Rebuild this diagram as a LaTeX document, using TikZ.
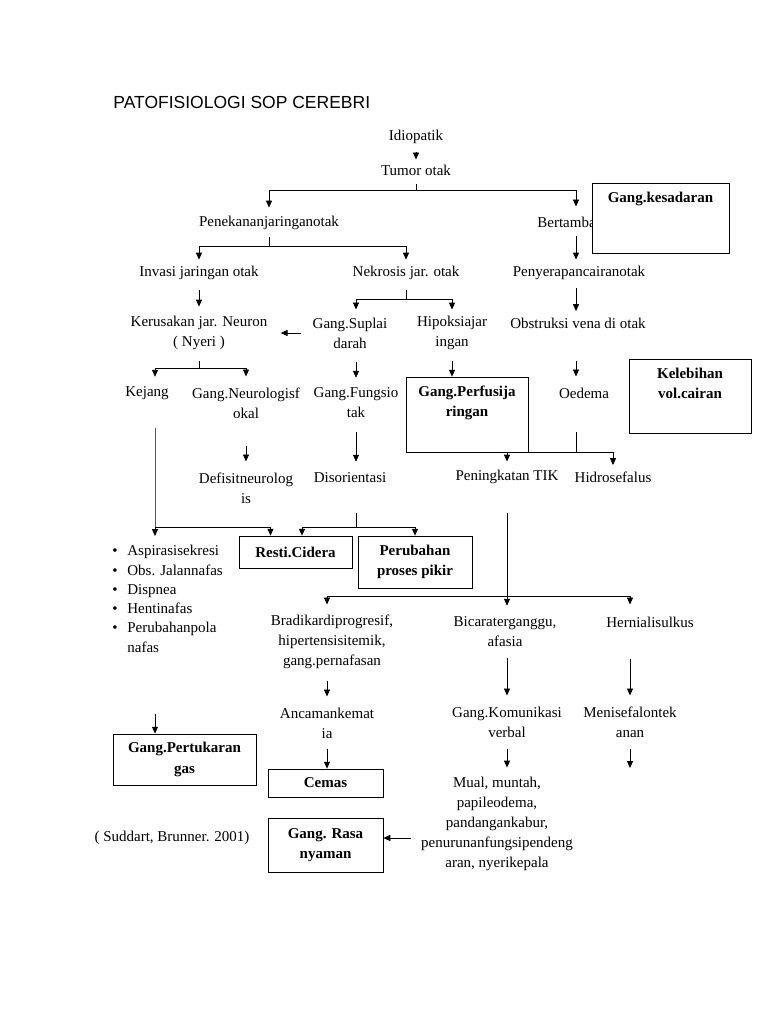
\documentclass[tikz,border=0pt]{standalone}
\usepackage{fontspec}
\setmainfont{Liberation Serif}
\setsansfont{Liberation Sans}
\usetikzlibrary{arrows.meta}

\begin{document}
\begin{tikzpicture}[x=0.8pt, y=-0.8pt, line width=0.6pt,
    teks/.style={font=\fontsize{12}{16}\selectfont, align=center, inner sep=0pt},
    kotak/.style={draw, fill=white, font=\bfseries\fontsize{12}{16.5}\selectfont, align=center, inner sep=0pt},
    kotaklabel/.style={anchor=north, yshift=-7pt, inner sep=0pt, align=center, font=\bfseries\fontsize{12}{16.5}\selectfont},
    panah/.style={-{Triangle[length=5.5pt,width=4.8pt]}}]
    \useasboundingbox (0,0) rectangle (768,1024);

    \node[anchor=west, inner sep=0pt, font=\sffamily\fontsize{14}{16}\selectfont] (judul) at (113,102) {PATOFISIOLOGI SOP CEREBRI};

    % baris atas
    \node[teks] (idio) at (416,137) {Idiopatik};
    \node[teks] (tumor) at (416,170) {Tumor otak};
    \node[teks] (pene) at (269,223) {Penekananjaringanotak};
    \node[teks, anchor=west] (bert) at (537,222) {Bertamba};
    \coordinate (bertax) at (576,222);
    \node[teks] (invasi) at (199,273) {Invasi jaringan otak};
    \node[teks] (nekrosis) at (406,273) {Nekrosis jar. otak};
    \node[teks] (penyerapan) at (579,273) {Penyerapancairanotak};
    \node[teks] (kerusakan) at (199,333) {Kerusakan jar. Neuron\\( Nyeri )};
    \node[teks] (suplai) at (350,333) {Gang.Suplai\\darah};
    \node[teks] (hipoksia) at (452,333) {Hipoksiajar\\ingan};
    \node[teks] (obstruksi) at (578,323) {Obstruksi vena di otak};
    \node[teks] (kejang) at (147,393) {Kejang};
    \coordinate (kejcol) at (155,393);
    \node[teks] (neuro) at (246,403) {Gang.Neurologisf\\okal};
    \node[teks] (fungsi) at (356,403) {Gang.Fungsio\\tak};
    \node[teks] (oedema) at (584,393) {Oedema};
    \node[teks] (defisit) at (246,488) {Defisitneurolog\\is};
    \node[teks] (disorientasi) at (350,478) {Disorientasi};
    \node[teks] (tik) at (507,477) {Peningkatan TIK};
    \node[teks] (hidro) at (613,477) {Hidrosefalus};

    % baris bawah
    \node[teks] (bradi) at (332,642) {Bradikardiprogresif,\\hipertensisitemik,\\gang.pernafasan};
    \node[teks] (bicara) at (505,632) {Bicaraterganggu,\\afasia};
    \node[teks] (hernia) at (650,622) {Hernialisulkus};
    \node[teks] (ancaman) at (327,723) {Ancamankemat\\ia};
    \node[teks] (komunikasi) at (507,722) {Gang.Komunikasi\\verbal};
    \node[teks] (menisefalon) at (630,722) {Menisefalontek\\anan};
    \node[teks] (mual) at (497,824) {Mual, muntah,\\papileodema,\\pandangankabur,\\penurunanfungsipendeng\\aran, nyerikepala};
    \node[teks, anchor=north west, font=\fontsize{12}{15.4}\selectfont] (gejala) at (112,542)
        {\begin{tabular}{@{}l@{\hspace{7.8pt}}l@{}}
        \textbullet & Aspirasisekresi\\
        \textbullet & Obs. Jalannafas\\
        \textbullet & Dispnea\\
        \textbullet & Hentinafas\\
        \textbullet & Perubahanpola\\
                    & nafas
        \end{tabular}};
    \node[teks] (sumber) at (172,838) {( Suddart, Brunner. 2001)};

    % kotak diagnosa
    \node[kotak, minimum width=109.6pt, minimum height=56pt,
        label={[kotaklabel]north:Gang.kesadaran}] (kesadaran) at (660.5,218) {};
    \node[kotak, minimum width=97.6pt, minimum height=60pt,
        label={[kotaklabel]north:{Gang.Perfusija\\ringan}}] (perfusi) at (467,414.5) {};
    \node[kotak, minimum width=97.6pt, minimum height=59.2pt,
        label={[kotaklabel]north:{Kelebihan\\vol.cairan}}] (kelebihan) at (690,396) {};
    \node[kotak, minimum width=90.4pt, minimum height=25.6pt] (resti) at (295.5,552) {Resti.Cidera};
    \node[kotak, minimum width=91.2pt, minimum height=41.6pt] (perubahan) at (415,562) {Perubahan\\proses pikir};
    \node[kotak, minimum width=114.4pt, minimum height=40.8pt] (pertukaran) at (184.5,759.5) {Gang.Pertukaran\\gas};
    \node[kotak, minimum width=92pt, minimum height=22.4pt] (cemas) at (325.5,783) {Cemas};
    \node[kotak, minimum width=92pt, minimum height=43.2pt] (rasa) at (325.5,845) {Gang. Rasa\\nyaman};

    % titik cabang
    \coordinate (tf) at (416,190);
    \coordinate (pf) at (269,246);
    \coordinate (nf) at (406,299);
    \coordinate (kf) at (199,368);
    \coordinate (of) at (576,452);
    \coordinate (kj) at (155,527);
    \coordinate (df) at (356,527);
    \coordinate (tf2) at (507,596);
    \coordinate (menend) at (630,768);
    \coordinate (rasain) at ([yshift=5.6pt]rasa.east);

    % panah
    \draw[panah, shorten <=6.6pt, shorten >=3.9pt] (idio) -- (tumor);
    \draw[shorten <=6.4pt] (tumor) -- (tf);
    \draw[panah, shorten >=6.6pt] (tf) -| (pene);
    \draw[panah, shorten >=7.9pt] (tf) -| (bertax |- bert.north);
    \draw[shorten <=5.6pt] (pene) -- (pf);
    \draw[panah, shorten >=5pt] (pf) -| (invasi);
    \draw[panah, shorten >=5pt] (pf) -| (nekrosis);
    \draw[panah, shorten <=6.4pt, shorten >=5pt] (bertax |- bert.south) -- (bertax |- penyerapan.north);
    \draw[panah, shorten <=8.2pt, shorten >=7.4pt] (invasi) -- (kerusakan);
    \draw[shorten <=8pt] (nekrosis) -- (nf);
    \draw[panah, shorten >=6.3pt] (nf) -| (fungsi |- suplai.north);
    \draw[panah, shorten >=5pt] (nf) -| (hipoksia);
    \draw[panah, shorten <=8.8pt, shorten >=10.4pt] (suplai.west) -- (kerusakan.east);
    \draw[panah, shorten <=6.4pt, shorten >=5pt] (bertax |- penyerapan.south) -- (bertax |- obstruksi.north);
    \draw[shorten <=9pt] (kerusakan) -- (kf);
    \draw[panah, shorten >=7.4pt] (kf) -| (kejcol |- kejang.north);
    \draw[panah, shorten >=8.7pt] (kf) -| (neuro);
    \draw[panah, shorten <=10.3pt, shorten >=7.9pt] (fungsi |- suplai.south) -- (fungsi.north);
    \draw[panah, shorten <=9pt] (hipoksia) -- (hipoksia |- perfusi.north);
    \draw[panah, shorten <=25.5pt, shorten >=8.7pt] (bertax |- obstruksi.south) -- (bertax |- oedema.north);
    \draw[shorten <=26.3pt] (bertax |- oedema.south) -- (of);
    \draw[panah, shorten >=6.6pt] (of) -| (tik);
    \draw[panah, shorten >=5pt] (of) -| (hidro);
    \draw[panah, shorten <=21.5pt, shorten >=8.7pt] (neuro) -- (defisit);
    \draw[panah, shorten <=11.1pt, shorten >=8.7pt] (fungsi) -- (fungsi |- disorientasi.north);
    \draw[panah, shorten <=22.6pt, shorten >=4.8pt] (kejcol |- kejang.south) -- (kj) -- (kj |- gejala.north);
    \draw[panah] (kj) -| ([xshift=-20pt]resti.north);
    \draw[shorten <=24pt] (fungsi |- disorientasi.south) -- (df);
    \draw[panah] (df) -| ([xshift=5.2pt]resti.north);
    \draw[panah] (df) -| (perubahan);
    \draw[panah, shorten <=44.8pt] (kejcol |- gejala.south) -- (kejcol |- pertukaran.north);
    \draw[shorten <=23.4pt] (tik) -- (tf2);
    \draw[panah, shorten >=8.7pt] (tf2) -- (tf2 |- bicara.north);
    \draw[panah, shorten >=8.2pt] (tf2) -| (ancaman |- bradi.north);
    \draw[panah, shorten >=9.5pt] (tf2) -| (menisefalon |- hernia.north);
    \draw[panah, shorten <=9pt, shorten >=8.7pt] (ancaman |- bradi.south) -- (ancaman);
    \draw[panah, shorten <=8.7pt, shorten >=8.7pt] (tf2 |- bicara.south) -- (tf2 |- komunikasi.north);
    \draw[panah, shorten <=24.7pt, shorten >=8.7pt] (menisefalon |- hernia.south) -- (menisefalon);
    \draw[panah, shorten <=7.9pt] (ancaman) -- (ancaman |- cemas.north);
    \draw[panah, shorten <=8.7pt, shorten >=7.4pt] (komunikasi) -- (komunikasi |- mual.north);
    \draw[panah, shorten <=8.7pt] (menisefalon) -- (menend);
    \draw[panah, shorten <=8pt] (rasain -| mual.west) -- (rasain);
\end{tikzpicture}
\end{document}
